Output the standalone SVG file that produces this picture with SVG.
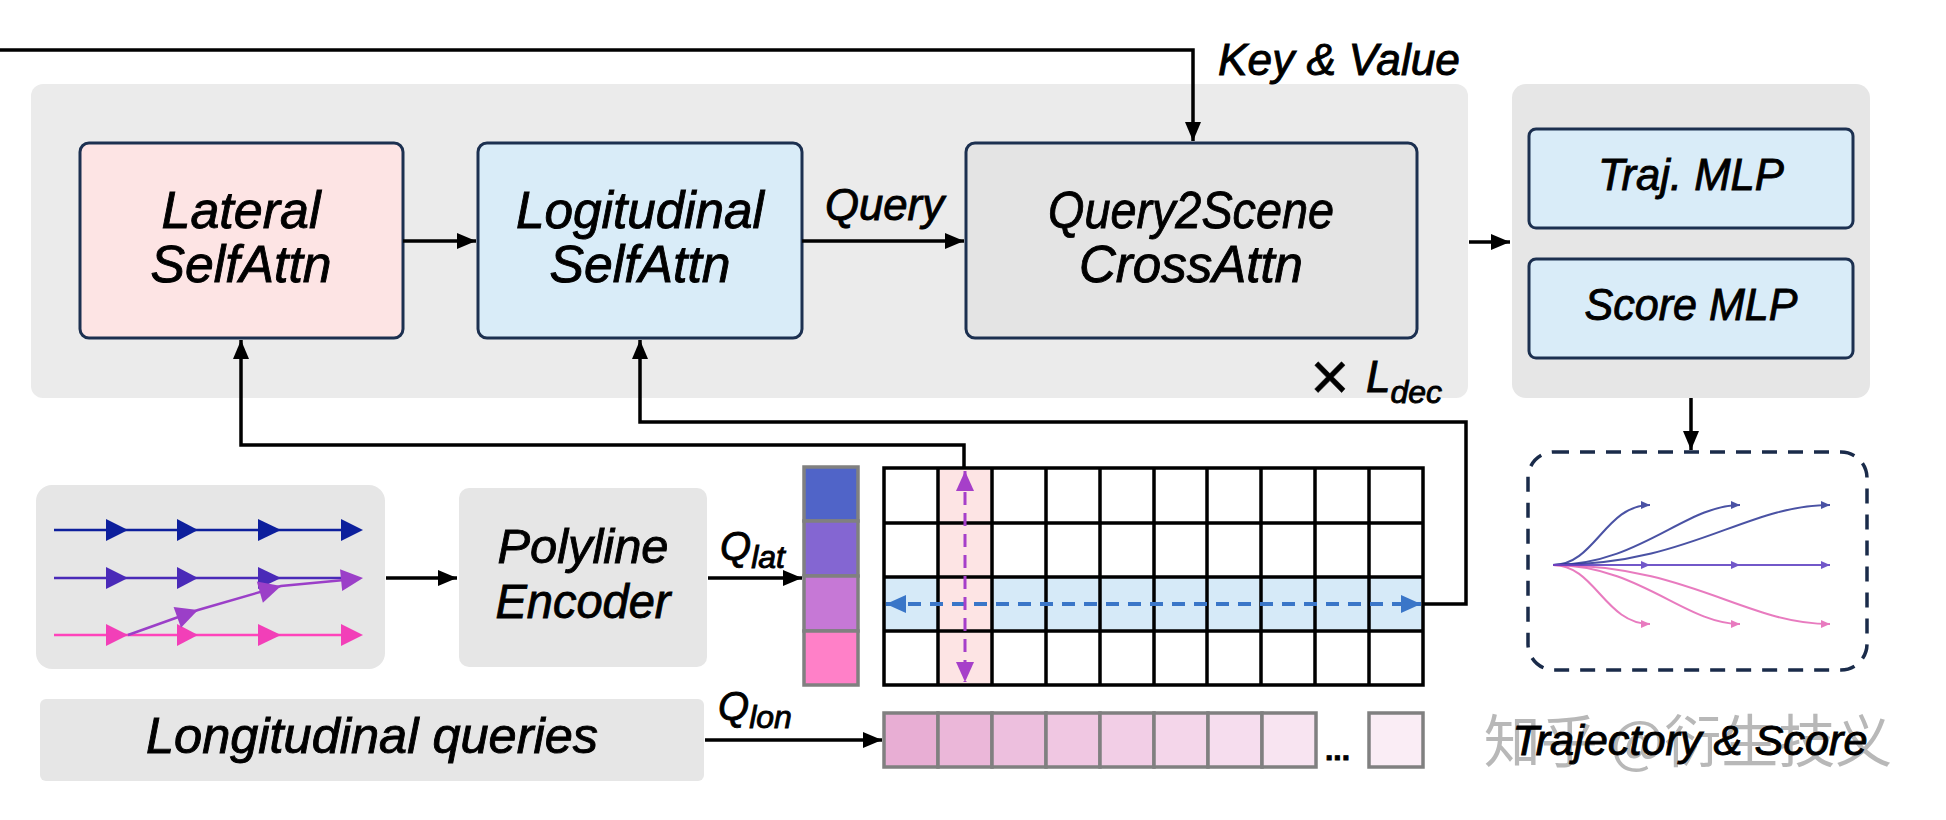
<svg xmlns="http://www.w3.org/2000/svg" width="1946" height="820" viewBox="0 0 1946 820">
<style>
.t{font-family:"Liberation Sans",Arial,sans-serif;font-style:italic;fill:#000;stroke:#000;stroke-width:0.9}
.c{text-anchor:middle}
.node{stroke:#1c3050;stroke-width:3}
.ln{fill:none;stroke:#000;stroke-width:3.5}
.grid{fill:none;stroke:#000;stroke-width:3.5}
.qc{stroke:#808080;stroke-width:3.5}
.traj{fill:none;stroke-width:2;opacity:0.85}
</style>
<defs>
<marker id="ah" markerUnits="userSpaceOnUse" markerWidth="20" markerHeight="16" refX="19" refY="8" orient="auto"><path d="M0,0 L19,8 L0,16 z" fill="#000"/></marker>
<marker id="ahB" markerUnits="userSpaceOnUse" markerWidth="22" markerHeight="18" refX="20" refY="9" orient="auto-start-reverse"><path d="M0,0 L20,9 L0,18 z" fill="#3a76c8"/></marker>
<marker id="ahP" markerUnits="userSpaceOnUse" markerWidth="22" markerHeight="18" refX="20" refY="9" orient="auto-start-reverse"><path d="M0,0 L20,9 L0,18 z" fill="#a63fc9"/></marker>
<marker id="mB" markerUnits="userSpaceOnUse" markerWidth="10" markerHeight="8" refX="9" refY="4" orient="auto"><path d="M0,0 L9,4 L0,8 z" fill="#2b3595"/></marker>
<marker id="mP" markerUnits="userSpaceOnUse" markerWidth="10" markerHeight="8" refX="9" refY="4" orient="auto"><path d="M0,0 L9,4 L0,8 z" fill="#e565b5"/></marker>
<marker id="mM" markerUnits="userSpaceOnUse" markerWidth="10" markerHeight="8" refX="9" refY="4" orient="auto"><path d="M0,0 L9,4 L0,8 z" fill="#5a3cc0"/></marker>
</defs>
<rect width="1946" height="820" fill="#fff"/>

<g id="decoder-panel"><rect x="31" y="84" width="1437" height="314" rx="12" fill="#ebebeb"/>
<text class="t" x="1310" y="400" font-size="68" style="font-style:normal;stroke-width:0.4">×</text>
<text class="t" x="1366" y="392" font-size="44">L<tspan font-size="32" dy="11">dec</tspan></text></g>
<g id="head-panel"><rect x="1512" y="84" width="358" height="314" rx="14" fill="#e6e6e6"/></g>

<g id="lateral"><rect class="node" x="80" y="143" width="323" height="195" rx="9" fill="#fde4e4"/>
<text class="t c" x="241" y="228" font-size="52" textLength="159" lengthAdjust="spacingAndGlyphs">Lateral</text>
<text class="t c" x="241" y="282" font-size="52" textLength="181" lengthAdjust="spacingAndGlyphs">SelfAttn</text></g>

<g id="longitudinal"><rect class="node" x="478" y="143" width="324" height="195" rx="9" fill="#d9ecf8"/>
<text class="t c" x="640" y="228" font-size="52" textLength="248" lengthAdjust="spacingAndGlyphs">Logitudinal</text>
<text class="t c" x="640" y="282" font-size="52" textLength="181" lengthAdjust="spacingAndGlyphs">SelfAttn</text></g>

<g id="crossattn"><rect class="node" x="966" y="143" width="451" height="195" rx="9" fill="#e4e4e4"/>
<text class="t c" x="1191" y="228" font-size="52" textLength="286" lengthAdjust="spacingAndGlyphs">Query2Scene</text>
<text class="t c" x="1191" y="282" font-size="52" textLength="224" lengthAdjust="spacingAndGlyphs">CrossAttn</text></g>

<g id="traj-mlp"><rect class="node" x="1529" y="129" width="324" height="99" rx="7" fill="#d9ecf8"/>
<text class="t c" x="1691" y="190" font-size="45" textLength="186" lengthAdjust="spacingAndGlyphs">Traj. MLP</text></g>
<g id="score-mlp"><rect class="node" x="1529" y="259" width="324" height="99" rx="7" fill="#d9ecf8"/>
<text class="t c" x="1691" y="320" font-size="45" textLength="213" lengthAdjust="spacingAndGlyphs">Score MLP</text></g>

<g id="map-input"><rect x="36" y="485" width="349" height="184" rx="16" fill="#e6e6e6"/>
<line x1="54" y1="530" x2="350" y2="530" stroke="#0d1f9c" stroke-width="2.5"/>
<g fill="#0d1f9c"><polygon points="106,519 128,530 106,541"/><polygon points="177,519 198,530 177,541"/><polygon points="258,519 281,530 258,541"/><polygon points="341,519 363,530 341,541"/></g>
<line x1="54" y1="578" x2="350" y2="578" stroke="#4a2ab8" stroke-width="2.5"/>
<g fill="#4a2ab8"><polygon points="106,567 128,578 106,589"/><polygon points="177,567 198,578 177,589"/><polygon points="258,567 281,578 258,589"/></g>
<line x1="54" y1="635" x2="350" y2="635" stroke="#ff44bb" stroke-width="2.5"/>
<g fill="#f23fb8"><polygon points="106,624 128,635 106,646"/><polygon points="177,624 198,635 177,646"/><polygon points="258,624 281,635 258,646"/><polygon points="341,624 363,635 341,646"/></g>
<polyline points="128,635 198,610 281,586 355,579" fill="none" stroke="#9b3fc8" stroke-width="2.5"/>
<g fill="#9b3fc8"><polygon points="-22,-11 0,0 -22,11" transform="translate(198,610) rotate(-19.7)"/><polygon points="-22,-11 0,0 -22,11" transform="translate(281,586) rotate(-16)"/><polygon points="-22,-11 0,0 -22,11" transform="translate(363,578) rotate(-5.6)"/></g></g>

<g id="polyline-encoder"><rect x="459" y="488" width="248" height="179" rx="10" fill="#e6e6e6"/>
<text class="t c" x="583" y="563" font-size="49" textLength="171" lengthAdjust="spacingAndGlyphs">Polyline</text>
<text class="t c" x="583" y="618" font-size="49" textLength="175" lengthAdjust="spacingAndGlyphs">Encoder</text></g>

<g id="longitudinal-queries"><rect x="40" y="699" width="664" height="82" rx="6" fill="#e6e6e6"/>
<text class="t c" x="372" y="753" font-size="50" textLength="452" lengthAdjust="spacingAndGlyphs">Longitudinal queries</text></g>

<g id="q-lat"><rect class="qc" x="804" y="467" width="54" height="54" fill="#5064c8"/><rect class="qc" x="804" y="521" width="54" height="55" fill="#8466d2"/><rect class="qc" x="804" y="576" width="54" height="55" fill="#c678d6"/><rect class="qc" x="804" y="631" width="54" height="54" fill="#ff80c8"/></g>

<g id="grid">
<rect x="884" y="577" width="539" height="54" fill="#d6eaf8"/>
<rect x="938" y="468" width="54" height="217" fill="#fde4e4"/>
<path class="grid" d="M884,468 H1423 V685 H884 Z M884,523 H1423 M884,577 H1423 M884,631 H1423 M938,468 V685 M992,468 V685 M1046,468 V685 M1100,468 V685 M1154,468 V685 M1207,468 V685 M1261,468 V685 M1315,468 V685 M1369,468 V685"/>
<line x1="886" y1="604" x2="1421" y2="604" stroke="#3a76c8" stroke-width="4" stroke-dasharray="13 9" marker-start="url(#ahB)" marker-end="url(#ahB)"/>
<line x1="965" y1="471" x2="965" y2="682" stroke="#a63fc9" stroke-width="3" stroke-dasharray="13 8" marker-start="url(#ahP)" marker-end="url(#ahP)"/>
</g>

<g id="q-lon">
<rect class="qc" x="884" y="713" width="54" height="54" fill="#e8aed4"/><rect class="qc" x="938" y="713" width="54" height="54" fill="#ebb7d9"/><rect class="qc" x="992" y="713" width="54" height="54" fill="#edbfde"/><rect class="qc" x="1046" y="713" width="54" height="54" fill="#f0c7e2"/><rect class="qc" x="1100" y="713" width="54" height="54" fill="#f2cee6"/><rect class="qc" x="1154" y="713" width="54" height="54" fill="#f4d6ea"/><rect class="qc" x="1208" y="713" width="54" height="54" fill="#f6ddee"/><rect class="qc" x="1262" y="713" width="54" height="54" fill="#f8e4f1"/><rect class="qc" x="1369" y="713" width="54" height="54" fill="#faedf5"/>
<text class="t" x="1325" y="760" font-size="30" font-weight="bold" style="font-style:normal">...</text></g>

<g id="trajectory-score">
<rect x="1528" y="452" width="339" height="218" rx="26" fill="none" stroke="#1a2b4a" stroke-width="3.5" stroke-dasharray="15 11"/>
<path class="traj" stroke="#2b3595" marker-end="url(#mB)" d="M1553,565 C1595,565 1605,505 1650,505"/>
<path class="traj" stroke="#2b3595" marker-end="url(#mB)" d="M1553,565 C1640,565 1685,505 1740,505"/>
<path class="traj" stroke="#2b3595" marker-end="url(#mB)" d="M1553,565 C1690,565 1745,505 1830,505"/>
<path class="traj" stroke="#e565b5" marker-end="url(#mP)" d="M1553,565 C1595,565 1605,624 1650,624"/>
<path class="traj" stroke="#e565b5" marker-end="url(#mP)" d="M1553,565 C1640,565 1685,624 1740,624"/>
<path class="traj" stroke="#e565b5" marker-end="url(#mP)" d="M1553,565 C1690,565 1745,624 1830,624"/>
<path class="traj" stroke="#5a3cc0" marker-mid="url(#mM)" marker-end="url(#mM)" d="M1553,565 L1650,565 L1740,565 L1830,565"/>
<text x="1688" y="762" font-size="57" text-anchor="middle" fill="#b8b8b8" style="font-family:'Noto Sans CJK SC','Noto Sans',sans-serif">知乎 @衍生技义</text>
<text class="t c" x="1690" y="755" font-size="42" textLength="355" lengthAdjust="spacingAndGlyphs">Trajectory &amp; Score</text>
</g>

<g id="connectors">
<polyline class="ln" points="0,50 1193,50 1193,141" marker-end="url(#ah)"/>
<text class="t" x="1218" y="75" font-size="44" textLength="242" lengthAdjust="spacingAndGlyphs">Key &amp; Value</text>
<line class="ln" x1="403" y1="241" x2="476" y2="241" marker-end="url(#ah)"/>
<line class="ln" x1="802" y1="241" x2="964" y2="241" marker-end="url(#ah)"/>
<text class="t" x="825" y="220" font-size="44" textLength="119" lengthAdjust="spacingAndGlyphs">Query</text>
<line class="ln" x1="1469" y1="242" x2="1510" y2="242" marker-end="url(#ah)"/>
<line class="ln" x1="1691" y1="398" x2="1691" y2="450" marker-end="url(#ah)"/>
<polyline class="ln" points="964,468 964,445 241,445 241,340" marker-end="url(#ah)"/>
<polyline class="ln" points="1423,604 1466,604 1466,422 640,422 640,340" marker-end="url(#ah)"/>
<line class="ln" x1="386" y1="578" x2="457" y2="578" marker-end="url(#ah)"/>
<line class="ln" x1="708" y1="578" x2="802" y2="578" marker-end="url(#ah)"/>
<text class="t" x="720" y="560" font-size="40">Q<tspan font-size="32" dy="8">lat</tspan></text>
<line class="ln" x1="705" y1="740" x2="882" y2="740" marker-end="url(#ah)"/>
<text class="t" x="718" y="720" font-size="40">Q<tspan font-size="32" dy="8">lon</tspan></text>
</g>
</svg>
